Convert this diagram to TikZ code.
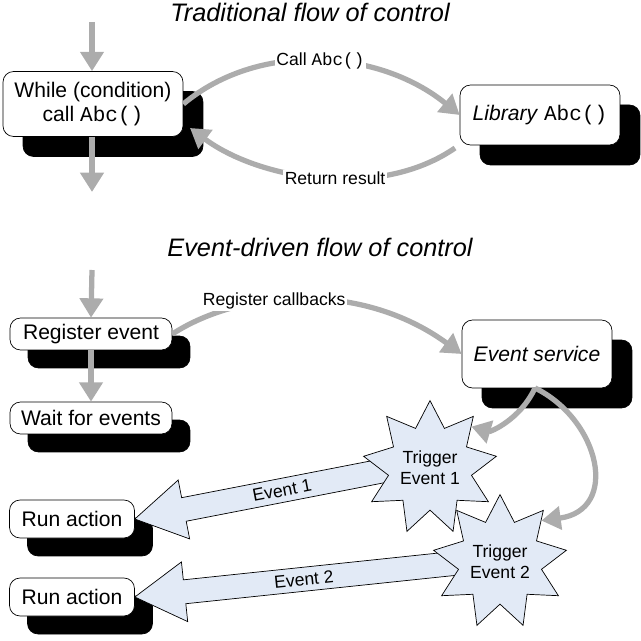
\documentclass[tikz,border=0pt]{standalone}
\usepackage{fontspec}
\setmainfont{Liberation Sans}
\setmonofont{Liberation Mono}
\usetikzlibrary{shapes.geometric,shadows,arrows.meta}

\definecolor{paleblue}{RGB}{226,234,246}
\tikzset{
  box/.style={draw, rounded corners=6pt, fill=white, align=center, font=\large},
  bigshadow/.style={copy shadow={fill=black, draw=black, shadow xshift=0.4cm, shadow yshift=-0.4cm}},
  smallshadow/.style={copy shadow={fill=black, draw=black, shadow xshift=0.36cm, shadow yshift=-0.36cm}},
  flow/.style={draw=gray!65, line width=3pt, -{Triangle[length=11pt,width=13pt]}},
  burst/.style={star, star points=9, star point ratio=1.6, draw, fill=paleblue,
    minimum size=2.2cm, align=center, inner sep=0pt},
  fat/.style={draw, fill=paleblue},
  title/.style={font=\Large\itshape},
  lbl/.style={font=\normalsize, fill=white, inner sep=1pt}
}

\begin{document}
\begin{tikzpicture}[x=0.02cm, y=-0.02cm]
\useasboundingbox (0,0) rectangle (640,641);

% traditional
\node[title] (t1) at (310,12) {Traditional flow of control};
\node[box, bigshadow, minimum width=3.6cm, minimum height=1.3cm] (loop) at (93,104)
  {While (condition)\\call \texttt{Abc()}};
\node[box, bigshadow, minimum width=3.2cm, minimum height=1.2cm] (lib) at (540,115)
  {\textit{Library} \texttt{Abc()}};
\coordinate (in1) at (92,22);
\coordinate (out1) at (92,192);
\coordinate (r0) at (455,148);
\coordinate (r1) at (190,128);
\draw[flow] (in1) -- (loop.north -| in1);
\draw[flow] (loop.south -| in1) -- (out1);
\draw[flow] (loop.east) .. controls (260,40) and (380,50) .. (lib.west)
  node[pos=0.5, lbl] {Call \texttt{Abc()}};
\draw[flow] (r0) .. controls (380,200) and (260,180) .. (r1)
  node[pos=0.45, lbl] {Return result};

% event driven
\node[title] (t2) at (320,247) {Event-driven flow of control};
\node[box, smallshadow, minimum width=3.24cm, minimum height=0.64cm] (reg) at (91,334) {Register event};
\node[box, smallshadow, minimum width=3.24cm, minimum height=0.64cm] (wait) at (91,418) {Wait for events};
\node[box, bigshadow, minimum width=3.0cm, minimum height=1.36cm] (svc) at (537,354) {\textit{Event service}};
\node[box, smallshadow, minimum width=2.5cm, minimum height=0.76cm] (run1) at (72,519) {Run action};
\node[box, smallshadow, minimum width=2.5cm, minimum height=0.76cm] (run2) at (72,597) {Run action};
\coordinate (in2) at (92,270);
\coordinate (s1) at (535,388);
\draw[flow] (in2) -- (reg.north);
\draw[flow] (reg.south) -- (wait.north);
\draw[flow] (reg.east) .. controls (240,290) and (360,280) .. (svc.west)
  node[pos=0.4, lbl] {Register callbacks};

% event arrows
\begin{scope}[shift={(run1.east)}, rotate=11]
  \draw[fat] (0,0) -- (50,-30) -- (50,-12) -- (280,-12) -- (280,12) -- (50,12) -- (50,30) -- cycle;
  \node[rotate=11] (e1) at (150,0) {Event 1};
\end{scope}
\begin{scope}[shift={(run2.east)}, rotate=6]
  \draw[fat] (0,0) -- (50,-30) -- (50,-12) -- (340,-12) -- (340,12) -- (50,12) -- (50,30) -- cycle;
  \node[rotate=6] (e2) at (170,0) {Event 2};
\end{scope}

\node[burst] (tr1) at (430,468) {Trigger\\Event 1};
\node[burst] (tr2) at (500,562) {Trigger\\Event 2};

\draw[flow] (s1) .. controls (520,420) and (490,432) .. (tr1.north east);
\draw[flow] (s1) .. controls (600,420) and (620,510) .. (tr2.north east);
\end{tikzpicture}
\end{document}
